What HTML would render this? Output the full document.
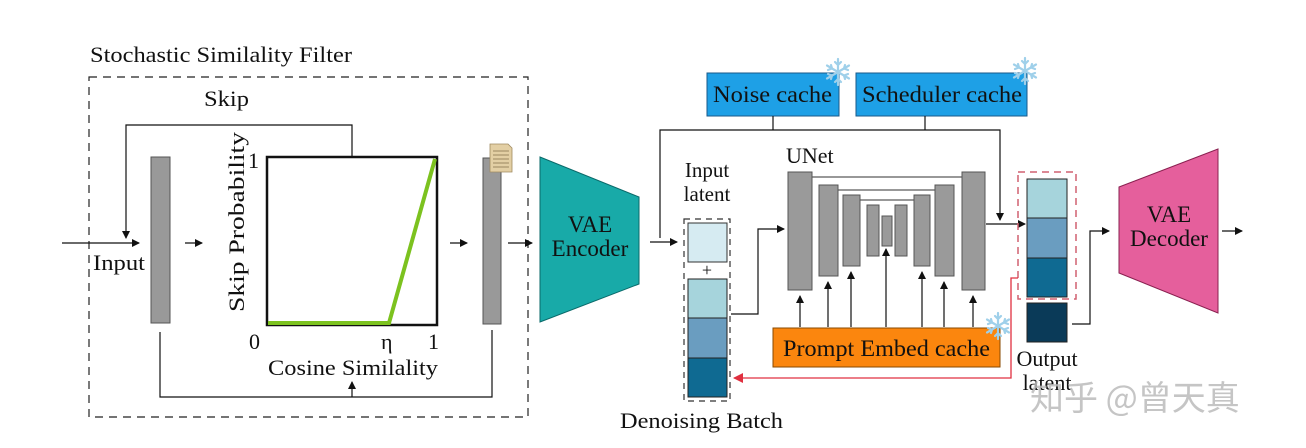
<!DOCTYPE html>
<html><head><meta charset="utf-8"><style>
html,body{margin:0;padding:0;background:#fff;}
svg{display:block;}
text{font-family:"Liberation Serif",serif;fill:#111;}
</style></head><body>
<svg width="1306" height="448" viewBox="0 0 1306 448" xmlns="http://www.w3.org/2000/svg">
<defs>
<marker id="ah" markerWidth="8" markerHeight="8" refX="7" refY="4" orient="auto" markerUnits="userSpaceOnUse"><path d="M0,0 L8,4 L0,8 z" fill="#111"/></marker>
<marker id="ahr" markerWidth="10" markerHeight="10" refX="9" refY="5" orient="auto" markerUnits="userSpaceOnUse"><path d="M0,0 L10,5 L0,10 z" fill="#e03040"/></marker>
<g id="snow" stroke="#9fd0ea" stroke-width="2.2" fill="none" stroke-linecap="round">
<path d="M0,-13 L0,13 M-11,-6.5 L11,6.5 M-11,6.5 L11,-6.5"/>
<path d="M-3,-10 L0,-7 L3,-10 M-3,10 L0,7 L3,10 M-10,-2 L-6,-3.5 L-7,-7 M10,2 L6,3.5 L7,7 M-10,2 L-6,3.5 L-7,7 M10,-2 L6,-3.5 L7,-7"/>
</g>
</defs>

<!-- Left filter -->
<text x="90" y="62" font-size="22" textLength="262" lengthAdjust="spacingAndGlyphs">Stochastic Similality Filter</text>
<rect x="89" y="77" width="439" height="340" fill="none" stroke="#222" stroke-width="1.2" stroke-dasharray="8,6"/>
<text x="204" y="106" font-size="22" textLength="45" lengthAdjust="spacingAndGlyphs">Skip</text>
<polyline points="352,156 352,125 126,125 126,238" fill="none" stroke="#111" stroke-width="1.2" marker-end="url(#ah)"/>
<line x1="62" y1="243" x2="139" y2="243" stroke="#111" stroke-width="1.2" marker-end="url(#ah)"/>
<text x="93" y="270" font-size="22" textLength="52" lengthAdjust="spacingAndGlyphs">Input</text>
<rect x="151" y="157" width="19" height="166" fill="#999" stroke="#555"/>
<line x1="185" y1="243" x2="202" y2="243" stroke="#111" stroke-width="1.2" marker-end="url(#ah)"/>
<rect x="267" y="157" width="170" height="168" fill="#fff" stroke="#111" stroke-width="2.5"/>
<polyline points="268,323 389,323 435,159" fill="none" stroke="#7cc21f" stroke-width="4"/>
<text x="248" y="168" font-size="22">1</text>
<text x="0" y="0" font-size="22" transform="translate(244,312) rotate(-90)" textLength="180" lengthAdjust="spacingAndGlyphs">Skip Probability</text>
<text x="249" y="349" font-size="22">0</text>
<text x="381" y="349" font-size="22">η</text>
<text x="428" y="349" font-size="22">1</text>
<text x="268" y="375" font-size="22" textLength="170" lengthAdjust="spacingAndGlyphs">Cosine Similality</text>
<line x1="450" y1="243" x2="467" y2="243" stroke="#111" stroke-width="1.2" marker-end="url(#ah)"/>
<rect x="483" y="158" width="18" height="166" fill="#999" stroke="#555"/>
<path d="M490,144 L508,144 L512,148 L512,172 L490,172 z" fill="#e3cfa4" stroke="#a08a60" stroke-width="0.8"/>
<g stroke="#8a7550" stroke-width="0.8"><line x1="493" y1="151" x2="509" y2="151"/><line x1="493" y1="155" x2="509" y2="155"/><line x1="493" y1="159" x2="509" y2="159"/><line x1="493" y1="163" x2="509" y2="163"/><line x1="493" y1="167" x2="509" y2="167"/></g>
<polyline points="160,332 160,397 492,397 492,330" fill="none" stroke="#111" stroke-width="1.2"/>
<line x1="352" y1="397" x2="352" y2="382" stroke="#111" stroke-width="1.2" marker-end="url(#ah)"/>
<line x1="508" y1="243" x2="532" y2="243" stroke="#111" stroke-width="1.2" marker-end="url(#ah)"/>

<!-- Encoder -->
<polygon points="540,157 639,197 639,284 540,322" fill="#18aaa8" stroke="#0a6a6a"/>
<text x="590" y="232" font-size="23" text-anchor="middle">VAE</text>
<text x="590" y="256" font-size="23" text-anchor="middle">Encoder</text>

<!-- Caches -->
<rect x="707" y="73" width="132" height="43" fill="#1ea0e6" stroke="#1a5a8a"/>
<text x="713" y="102" font-size="23" textLength="119" lengthAdjust="spacingAndGlyphs">Noise cache</text>
<rect x="856" y="73" width="171" height="43" fill="#1ea0e6" stroke="#1a5a8a"/>
<text x="862" y="102" font-size="23" textLength="160" lengthAdjust="spacingAndGlyphs">Scheduler cache</text>
<use href="#snow" x="838" y="72"/>
<use href="#snow" x="1025" y="71"/>
<line x1="773" y1="116" x2="773" y2="130" stroke="#111" stroke-width="1.2"/>
<line x1="925" y1="116" x2="925" y2="130" stroke="#111" stroke-width="1.2"/>
<polyline points="660,238 660,130 1000,130 1000,220" fill="none" stroke="#111" stroke-width="1.2" marker-end="url(#ah)"/>
<line x1="650" y1="242" x2="677" y2="242" stroke="#111" stroke-width="1.2" marker-end="url(#ah)"/>

<!-- Input latent -->
<text x="707" y="177" font-size="21" text-anchor="middle">Input</text>
<text x="707" y="201" font-size="21" text-anchor="middle">latent</text>
<rect x="684" y="219" width="46" height="182" fill="none" stroke="#333" stroke-width="1.2" stroke-dasharray="6,5"/>
<rect x="688" y="223" width="39" height="39" fill="#d6ebf2" stroke="#333"/>
<text x="707" y="276" font-size="18" text-anchor="middle">+</text>
<rect x="688" y="279" width="39" height="39" fill="#a6d4dc" stroke="#222"/>
<rect x="688" y="318" width="39" height="40" fill="#6a9dc0" stroke="#222"/>
<rect x="688" y="358" width="39" height="39" fill="#0f6a92" stroke="#222"/>
<text x="620" y="428" font-size="22" textLength="163" lengthAdjust="spacingAndGlyphs">Denoising Batch</text>
<polyline points="731,314 758,314 758,229 784,229" fill="none" stroke="#111" stroke-width="1.2" marker-end="url(#ah)"/>

<!-- UNet -->
<text x="786" y="163" font-size="22">UNet</text>
<g stroke="#777" stroke-width="1.5"><line x1="812" y1="177" x2="962" y2="177"/><line x1="838" y1="190" x2="935" y2="190"/><line x1="860" y1="200" x2="914" y2="200"/></g>
<g fill="#9a9a9a" stroke="#555">
<rect x="788" y="172" width="24" height="118"/>
<rect x="819" y="185" width="19" height="91"/>
<rect x="843" y="195" width="17" height="71"/>
<rect x="867" y="205" width="12" height="51"/>
<rect x="882" y="216" width="10" height="30"/>
<rect x="895" y="205" width="12" height="51"/>
<rect x="914" y="195" width="16" height="71"/>
<rect x="935" y="185" width="19" height="91"/>
<rect x="962" y="172" width="23" height="118"/>
</g>
<g stroke="#111" stroke-width="1.2" marker-end="url(#ah)">
<line x1="800" y1="327" x2="800" y2="296"/><line x1="828" y1="327" x2="828" y2="282"/><line x1="851" y1="327" x2="851" y2="272"/><line x1="886" y1="327" x2="886" y2="249"/><line x1="922" y1="327" x2="922" y2="272"/><line x1="944" y1="327" x2="944" y2="282"/><line x1="973" y1="327" x2="973" y2="296"/>
</g>
<rect x="773" y="328" width="227" height="39" fill="#fb860e" stroke="#8a4a00"/>
<text x="783" y="356" font-size="23" textLength="207" lengthAdjust="spacingAndGlyphs">Prompt Embed cache</text>
<use href="#snow" x="998" y="326"/>
<line x1="986" y1="224" x2="1025" y2="224" stroke="#111" stroke-width="1.2" marker-end="url(#ah)"/>

<!-- Output latent -->
<rect x="1018" y="172" width="58" height="127" fill="none" stroke="#d06070" stroke-width="1.5" stroke-dasharray="7,5"/>
<rect x="1027" y="179" width="40" height="39" fill="#a6d4dc" stroke="#222"/>
<rect x="1027" y="218" width="40" height="40" fill="#6a9dc0" stroke="#222"/>
<rect x="1027" y="258" width="40" height="39" fill="#0f6a92" stroke="#222"/>
<rect x="1027" y="303" width="40" height="39" fill="#0a3a58" stroke="#222"/>
<polyline points="1018,278 1011,278 1011,378 734,378" fill="none" stroke="#e03040" stroke-width="1.3" marker-end="url(#ahr)"/>
<text x="1047" y="366" font-size="22" text-anchor="middle">Output</text>
<text x="1047" y="390" font-size="22" text-anchor="middle">latent</text>
<polyline points="1072,324 1090,324 1090,231 1109,231" fill="none" stroke="#111" stroke-width="1.2" marker-end="url(#ah)"/>

<!-- Decoder -->
<polygon points="1119,187 1218,149 1218,313 1119,273" fill="#e55f9c" stroke="#8a2050"/>
<text x="1169" y="222" font-size="23" text-anchor="middle">VAE</text>
<text x="1169" y="246" font-size="23" text-anchor="middle">Decoder</text>
<line x1="1222" y1="231" x2="1242" y2="231" stroke="#111" stroke-width="1.2" marker-end="url(#ah)"/>

<!-- watermark -->
<text x="1030" y="410" font-size="34" style="font-family:'Noto Sans CJK SC',sans-serif;fill:#bbb;fill-opacity:0.85">知乎 @曾天真</text>
</svg>
</body></html>
